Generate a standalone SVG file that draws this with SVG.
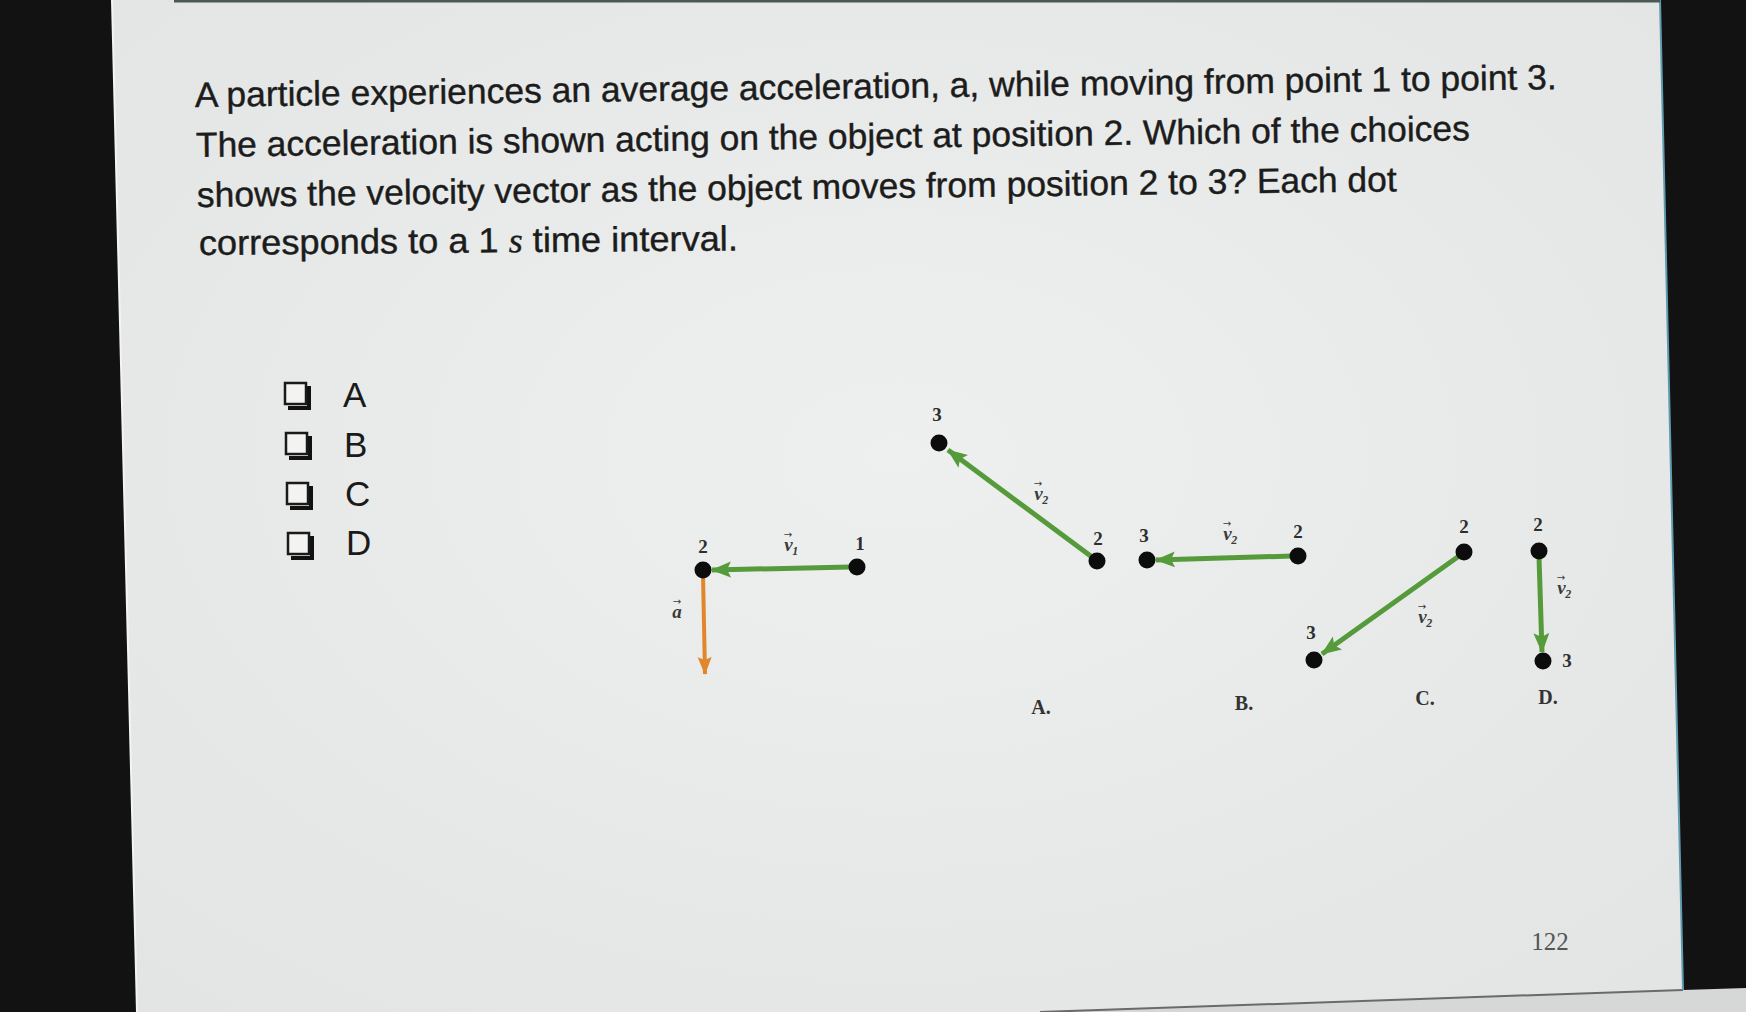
<svg xmlns="http://www.w3.org/2000/svg" width="1746" height="1012" viewBox="0 0 1746 1012">
<defs>
<style>
.q{font-family:"Liberation Sans","Open Sans",sans-serif;font-size:35px;fill:#1c1c1c;stroke:#1c1c1c;stroke-width:0.4}
.opt{font-family:"Liberation Sans","Open Sans",sans-serif;font-size:35px;fill:#1a1a1a}
.n{font-family:"Liberation Serif","DejaVu Serif",serif;font-size:19px;font-weight:bold;fill:#2e2e2e;text-anchor:middle}
.v{font-family:"Liberation Serif","DejaVu Serif",serif;font-size:19px;font-weight:bold;font-style:italic;fill:#3a3a3a;text-anchor:middle}
.ar{font-family:"DejaVu Sans","Liberation Sans",sans-serif;font-size:10px;font-style:normal;font-weight:normal}
.sub{font-size:12px}
.lab{font-family:"Liberation Serif","DejaVu Serif",serif;font-size:20px;font-weight:bold;fill:#333;text-anchor:middle}
.pg{font-family:"Liberation Serif","DejaVu Serif",serif;font-size:25px;fill:#555;text-anchor:middle}
.dot{fill:#0c0c0c}
.g{stroke:#559a3b;stroke-width:5;fill:none;marker-end:url(#hg)}
.o{stroke:#e0862c;stroke-width:4;fill:none;marker-end:url(#ho)}
</style>
<marker id="hg" markerUnits="userSpaceOnUse" markerWidth="22" markerHeight="18" refX="19" refY="8" orient="auto">
<path d="M0,0 L20,8 L0,16 L4,8 Z" fill="#559a3b"/>
</marker>
<marker id="ho" markerUnits="userSpaceOnUse" markerWidth="20" markerHeight="16" refX="17" refY="7" orient="auto">
<path d="M0,0 L18,7 L0,14 L3,7 Z" fill="#e0862c"/>
</marker>
<radialGradient id="bg" cx="0.5" cy="0.45" r="0.7">
<stop offset="0" stop-color="#eef0ef"/>
<stop offset="1" stop-color="#e2e5e4"/>
</radialGradient>
<g id="cb">
<path d="M24,3 V25 H3" fill="none" stroke="#111" stroke-width="4"/>
<rect x="0" y="0" width="21" height="21" fill="#f3f3f1" stroke="#1a1a1a" stroke-width="2.5"/>
</g>
</defs>

<!-- background: dark bezel -->
<rect x="0" y="0" width="1746" height="1012" fill="#121212"/>
<!-- lower gray surface -->
<polygon points="1000,1012 1683,990 1746,988 1746,1012" fill="#d6d7d7"/>
<!-- page -->
<polygon points="112,0 1660,0 1683,990 1040,1012 137,1012" fill="url(#bg)"/>
<line x1="1040" y1="1012" x2="1683" y2="990" stroke="#6a6a6a" stroke-width="2"/>
<line x1="1660" y1="0" x2="1683" y2="990" stroke="#5f9bb0" stroke-width="2"/>
<line x1="112" y1="0" x2="137" y2="1012" stroke="#f4f4f4" stroke-width="2"/>
<line x1="174" y1="1" x2="1660" y2="1" stroke="#4a5856" stroke-width="3"/>

<!-- question text -->
<g id="question">
<text class="q" x="195" y="107" textLength="1362" lengthAdjust="spacingAndGlyphs" transform="rotate(-0.75 195 107)">A particle experiences an average acceleration, a, while moving from point 1 to point 3.</text>
<text class="q" x="196" y="157" textLength="1274" lengthAdjust="spacingAndGlyphs" transform="rotate(-0.75 196 157)">The acceleration is shown acting on the object at position 2. Which of the choices</text>
<text class="q" x="197" y="207" textLength="1200" lengthAdjust="spacingAndGlyphs" transform="rotate(-0.75 197 207)">shows the velocity vector as the object moves from position 2 to 3? Each dot</text>
<text class="q" x="199" y="255" textLength="539" lengthAdjust="spacingAndGlyphs" transform="rotate(-0.5 199 255)">corresponds to a 1 <tspan font-family="Liberation Serif, serif" font-style="italic">s</tspan> time interval.</text>
</g>

<!-- options -->
<g id="options">
<use href="#cb" x="285" y="383"/>
<use href="#cb" x="286" y="433"/>
<use href="#cb" x="287" y="483"/>
<use href="#cb" x="288" y="533"/>
<text class="opt" x="343" y="407">A</text>
<text class="opt" x="344" y="457">B</text>
<text class="opt" x="345" y="506">C</text>
<text class="opt" x="346" y="555">D</text>
</g>

<!-- connectors -->
<g id="connectors">
<line class="g" x1="850" y1="567" x2="712" y2="570"/>
<line class="o" x1="703" y1="574" x2="705" y2="674"/>
<line class="g" x1="1092" y1="557" x2="948" y2="450"/>
<line class="g" x1="1292" y1="556" x2="1156" y2="560"/>
<line class="g" x1="1459" y1="556" x2="1322" y2="654"/>
<line class="g" x1="1539" y1="557" x2="1542" y2="652"/>
</g>

<!-- given motion -->
<g id="given">
<circle class="dot" cx="703" cy="570" r="8.5"/>
<circle class="dot" cx="857" cy="567" r="8.5"/>
<text class="n" x="703" y="553">2</text>
<text class="n" x="860" y="550">1</text>
<text class="v" x="791" y="551">v<tspan class="ar" dx="-9" dy="-13">→</tspan><tspan class="sub" dx="0" dy="17">1</tspan></text>
<text class="v" x="677" y="618">a<tspan class="ar" dx="-9" dy="-13">→</tspan></text>
</g>

<g id="choiceA">
<circle class="dot" cx="939" cy="443" r="8.5"/>
<circle class="dot" cx="1097" cy="561" r="8.5"/>
<text class="n" x="937" y="421">3</text>
<text class="n" x="1098" y="545">2</text>
<text class="v" x="1041" y="500">v<tspan class="ar" dx="-9" dy="-13">→</tspan><tspan class="sub" dx="0" dy="17">2</tspan></text>
<text class="lab" x="1041" y="714">A.</text>
</g>

<g id="choiceB">
<circle class="dot" cx="1147" cy="560" r="8.5"/>
<circle class="dot" cx="1298" cy="556" r="8.5"/>
<text class="n" x="1144" y="542">3</text>
<text class="n" x="1298" y="538">2</text>
<text class="v" x="1230" y="540">v<tspan class="ar" dx="-9" dy="-13">→</tspan><tspan class="sub" dx="0" dy="17">2</tspan></text>
<text class="lab" x="1244" y="710">B.</text>
</g>

<g id="choiceC">
<circle class="dot" cx="1464" cy="552" r="8.5"/>
<circle class="dot" cx="1314" cy="660" r="8.5"/>
<text class="n" x="1464" y="533">2</text>
<text class="n" x="1311" y="639">3</text>
<text class="v" x="1425" y="623">v<tspan class="ar" dx="-9" dy="-13">→</tspan><tspan class="sub" dx="0" dy="17">2</tspan></text>
<text class="lab" x="1425" y="705">C.</text>
</g>

<g id="choiceD">
<circle class="dot" cx="1539" cy="551" r="8.5"/>
<circle class="dot" cx="1543" cy="661" r="8.5"/>
<text class="n" x="1538" y="531">2</text>
<text class="n" x="1567" y="667">3</text>
<text class="v" x="1564" y="594">v<tspan class="ar" dx="-9" dy="-13">→</tspan><tspan class="sub" dx="0" dy="17">2</tspan></text>
<text class="lab" x="1548" y="704">D.</text>
</g>

<g id="page-number">
<text class="pg" x="1550" y="950">122</text>
</g>
</svg>
